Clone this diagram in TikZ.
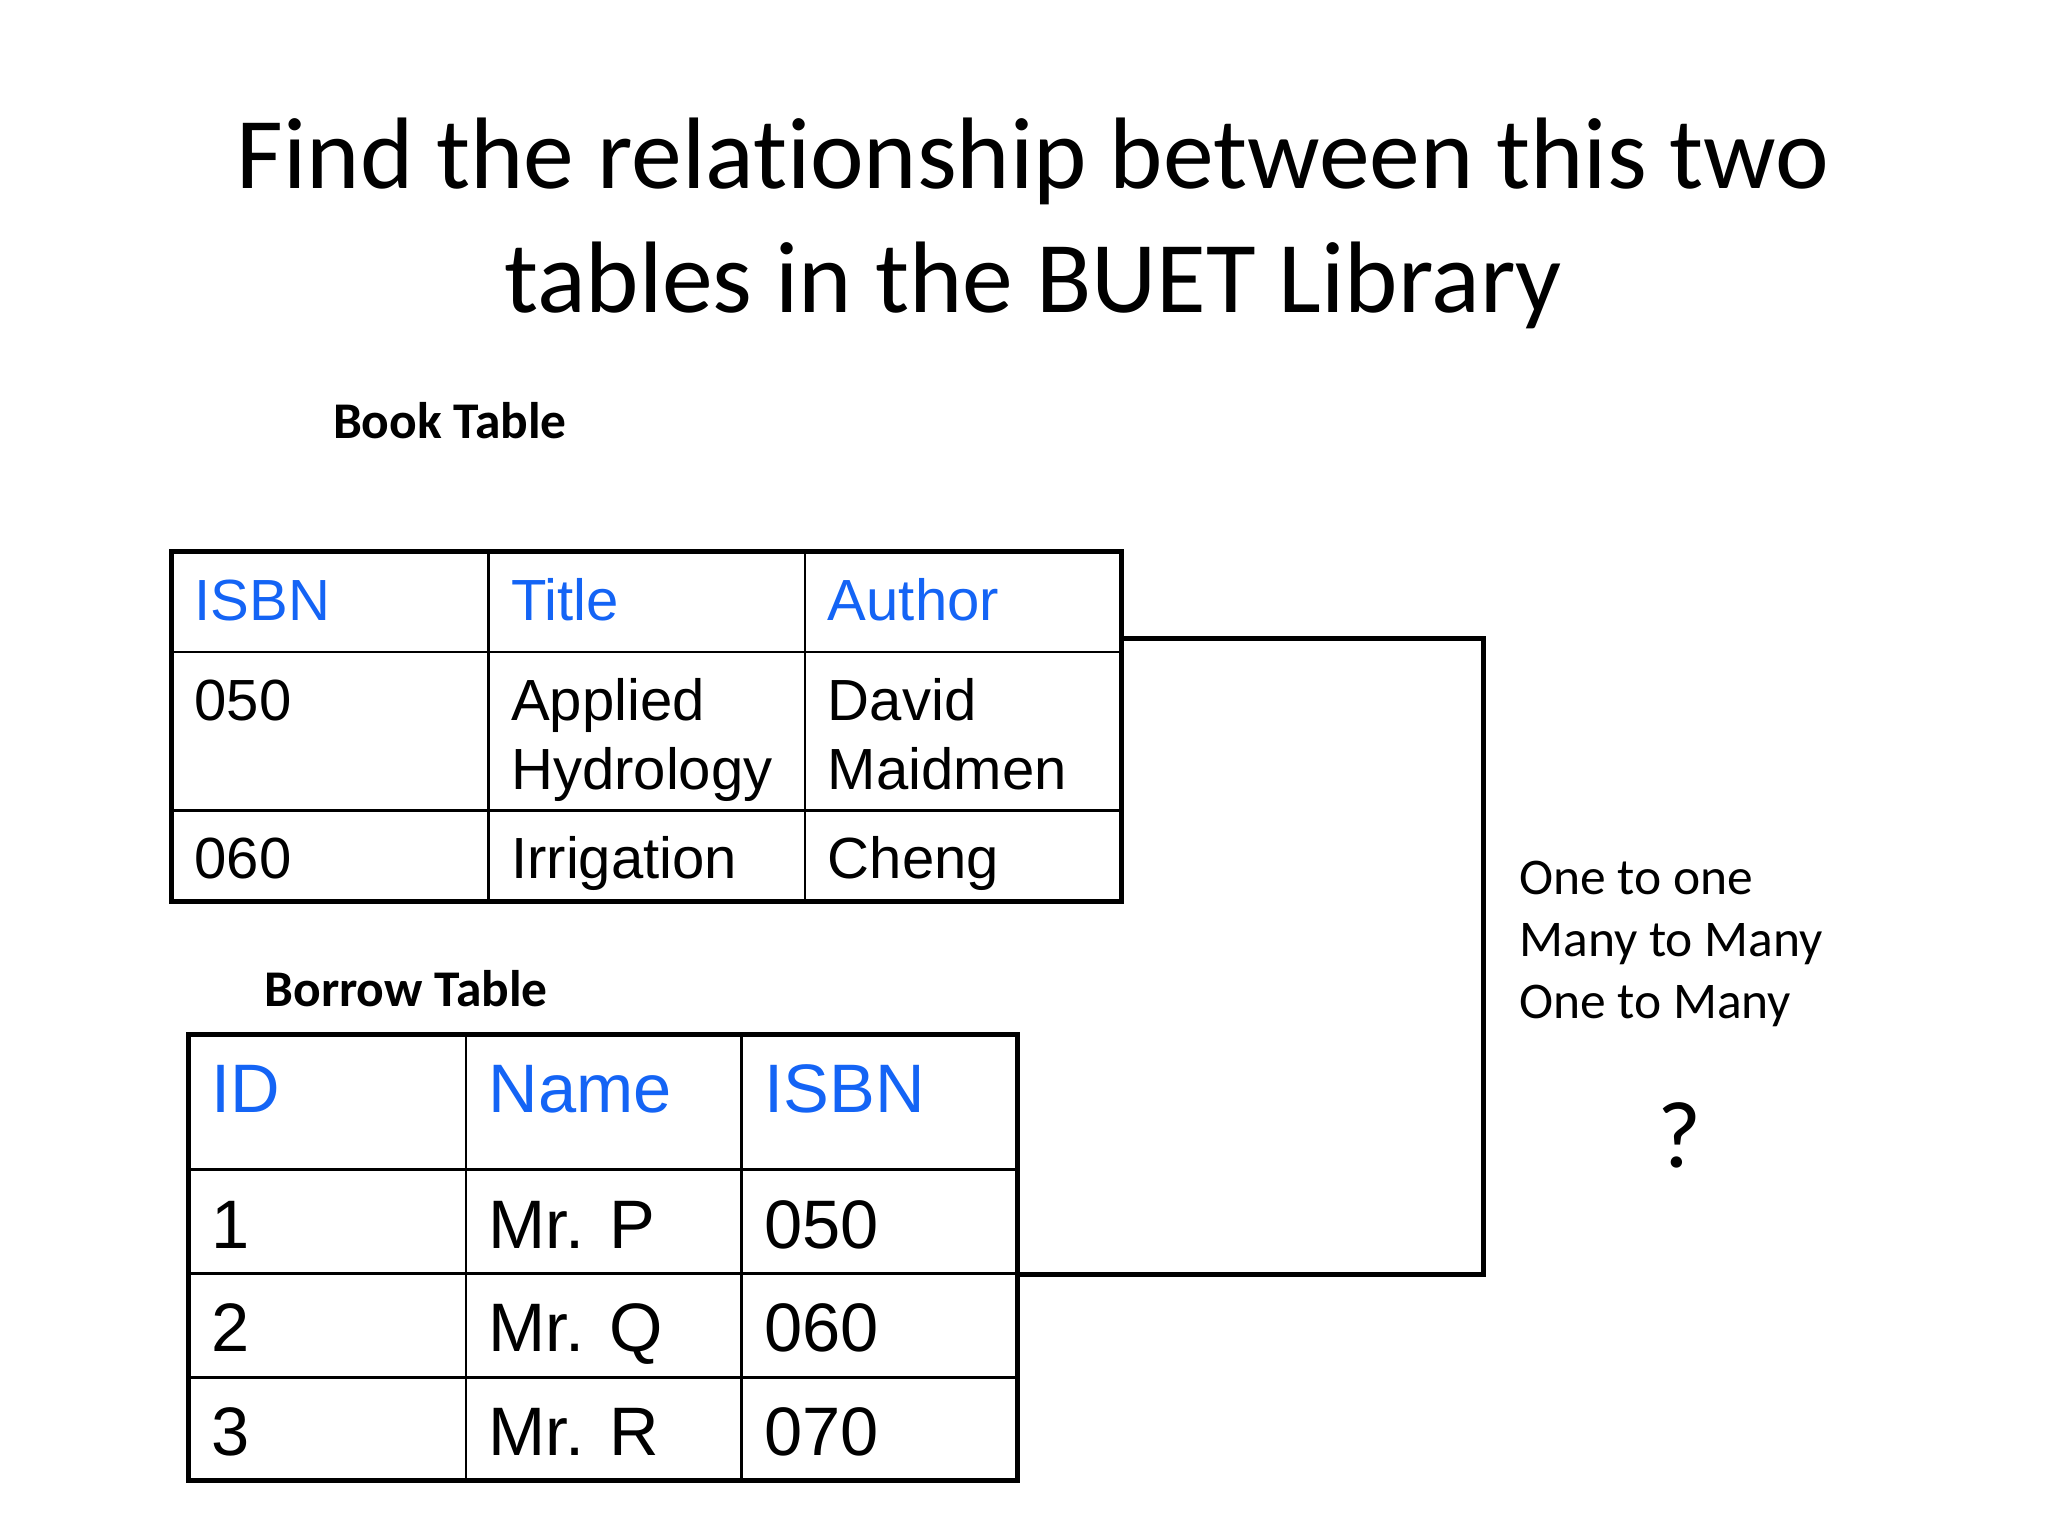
\documentclass[tikz,border=0pt]{standalone}
\usepackage{fontspec}
\setmainfont[Ligatures={NoCommon}]{Carlito}
\newfontfamily\arial{Liberation Sans}
\definecolor{hdr}{RGB}{20,100,245}
\begin{document}
\begin{tikzpicture}[x=0.5pt,y=-0.5pt,
  thick line/.style={line width=1.9pt},
  thin line/.style={line width=1pt},
  cellA/.style={anchor=base west,inner sep=0,font=\arial\fontsize{22}{24}\selectfont},
  cellB/.style={anchor=base west,inner sep=0,font=\arial\fontsize{26}{28}\selectfont},
  lbl/.style={anchor=base west,inner sep=0,font=\bfseries\fontsize{19.5}{21}\selectfont},
  opt/.style={anchor=base west,inner sep=0,font=\fontsize{19.5}{21}\selectfont}]
\useasboundingbox (0,0) rectangle (1552,1164);
\node[inner sep=0,anchor=base,font=\fontsize{38.5}{40}\selectfont] (t1) at (783,143) {Find the relationship between this two};
\node[inner sep=0,anchor=base,font=\fontsize{38.5}{40}\selectfont] (t2) at (783,237) {tables in the BUET Library};
\node[lbl] (bl) at (252,332) {Book Table};
\node[lbl] (brl) at (200,763) {Borrow Table};
% book table
\draw[thin line] (370,418)--(370,683) (610,418)--(610,683) (130,494)--(850,494) (130,614)--(850,614);
\draw[thick line] (130,418) rectangle (850,683);
\coordinate (bk) at (850,484);
\node[cellA,text=hdr] at (147,470) {ISBN};
\node[cellA,text=hdr] at (387,470) {Title};
\node[cellA,text=hdr] at (627,470) {Author};
\node[cellA] at (147,546) {050};
\node[cellA] at (387,546) {Applied};
\node[cellA] at (387,598) {Hydrology};
\node[cellA] at (627,546) {David};
\node[cellA] at (627,598) {Maidmen};
\node[cellA] at (147,666) {060};
\node[cellA] at (387,666) {Irrigation};
\node[cellA] at (627,666) {Cheng};
% borrow table
\draw[thin line] (353,784)--(353,1122) (562,784)--(562,1122) (143,886)--(771,886) (143,965)--(771,965) (143,1044)--(771,1044);
\draw[thick line] (143,784) rectangle (771,1122);
\coordinate (br) at (771,966);
\node[cellB,text=hdr] at (160,843) {ID};
\node[cellB,text=hdr] at (370,843) {Name};
\node[cellB,text=hdr] at (579,843) {ISBN};
\node[cellB] at (160,946) {1};
\node[cellB] at (370,946) {Mr. P};
\node[cellB] at (579,946) {050};
\node[cellB] at (160,1024) {2};
\node[cellB] at (370,1024) {Mr. Q};
\node[cellB] at (579,1024) {060};
\node[cellB] at (160,1103) {3};
\node[cellB] at (370,1103) {Mr. R};
\node[cellB] at (579,1103) {070};
% connector
\draw[thick line] (bk) -- (1124,484) -- (1124,966) -- (br);
\node[opt] at (1151,678) {One to one};
\node[opt] at (1151,725) {Many to Many};
\node[opt] at (1151,772) {One to Many};
\node[inner sep=0,anchor=base,font=\fontsize{36}{38}\selectfont] at (1273,885) {?};
\end{tikzpicture}
\end{document}
